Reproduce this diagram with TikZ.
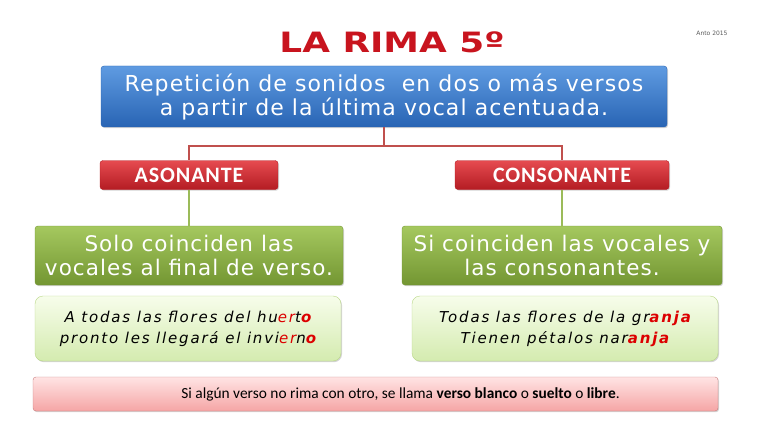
\documentclass[tikz,border=0pt]{standalone}
\usepackage{fontspec}
\setmainfont{DejaVu Sans}
\newfontfamily\calibri{Carlito}
\newfontfamily\titulofont{DejaVu Sans}
\newfontfamily\anchafont[LetterSpace=5]{DejaVu Sans}
\newfontfamily\ejemplofont[LetterSpace=12]{DejaVu Sans}
\newfontfamily\rotulofont[LetterSpace=4]{Carlito}
\usetikzlibrary{shadows}

\definecolor{rojotitulo}{RGB}{200,20,30}
\definecolor{azularriba}{RGB}{95,155,225}
\definecolor{azulabajo}{RGB}{40,100,180}
\definecolor{rojoarriba}{RGB}{230,75,80}
\definecolor{rojoabajo}{RGB}{180,28,35}
\definecolor{verdearriba}{RGB}{165,200,95}
\definecolor{verdeabajo}{RGB}{115,150,50}
\definecolor{claroarriba}{RGB}{247,253,235}
\definecolor{claroabajo}{RGB}{212,235,175}
\definecolor{claroborde}{RGB}{185,215,135}
\definecolor{rosaarriba}{RGB}{255,228,228}
\definecolor{rosaabajo}{RGB}{245,165,165}
\definecolor{rosaborde}{RGB}{200,125,125}
\definecolor{linearoja}{RGB}{192,80,77}
\definecolor{lineaverde}{RGB}{155,187,89}
\definecolor{marca}{RGB}{220,0,0}

\tikzset{
  caja/.style={rounded corners=3pt, align=center, inner sep=0pt,
    drop shadow={shadow xshift=1pt, shadow yshift=-1.2pt, opacity=0.35}},
  cajaazul/.style={caja, top color=azularriba, bottom color=azulabajo,
    draw=azulabajo, text=white, font=\anchafont\fontsize{22}{24}\selectfont},
  cajaroja/.style={caja, top color=rojoarriba, bottom color=rojoabajo,
    draw=rojoabajo, text=white, font=\rotulofont\bfseries\fontsize{22}{24}\selectfont},
  cajaverde/.style={caja, top color=verdearriba, bottom color=verdeabajo,
    draw=verdeabajo, text=white, font=\anchafont\fontsize{21.5}{24}\selectfont},
  cajaclara/.style={caja, rounded corners=8pt, top color=claroarriba,
    bottom color=claroabajo, draw=claroborde,
    font=\ejemplofont\itshape\fontsize{15}{21}\selectfont},
  cajarosa/.style={caja, top color=rosaarriba, bottom color=rosaabajo,
    draw=rosaborde, font=\calibri\fontsize{15.4}{18}\selectfont},
  ramaroja/.style={draw=linearoja, line width=1.5pt},
  ramaverde/.style={draw=lineaverde, line width=1.5pt}
}
\newcommand{\rojo}[1]{\textcolor{marca}{#1}}
\newcommand{\rojob}[1]{\textcolor{marca}{\bfseries #1}}

\begin{document}
\begin{tikzpicture}[x=1pt, y=-1pt]

\useasboundingbox (0,0) rectangle (768,433);

% titulo
\node[text=rojotitulo, font=\titulofont\bfseries\fontsize{28}{30}\selectfont, xscale=1.28]
  (titulo) at (392,42) {LA RIMA 5º};
\node[text=gray!70!black, font=\fontsize{6}{7}\selectfont] (autor) at (712,33) {Anto 2015};

% definicion
\node[cajaazul, minimum width=566, minimum height=61] (definicion) at (384,96.5)
  {Repetición de sonidos\ \ en dos o más versos\\a partir de la última vocal acentuada.};

% tipos de rima
\node[cajaroja, minimum width=178, minimum height=29] (asonante) at (189,175) {ASONANTE};
\node[cajaroja, minimum width=214, minimum height=29] (consonante) at (562,175) {CONSONANTE};

\node[cajaverde, minimum width=308, minimum height=59] (solo) at (189,255.5)
  {Solo coinciden las\\vocales al final de verso.};
\node[cajaverde, minimum width=320, minimum height=59] (si) at (562,255.5)
  {Si coinciden las vocales y\\las consonantes.};

% ejemplos
\node[cajaclara, minimum width=306, minimum height=65] (ejasonante) at (188,328.5)
  {A todas las flores del hu\rojo{er}t\rojob{o}\\pronto les llegará el invi\rojo{er}n\rojob{o}};
\node[cajaclara, minimum width=306, minimum height=65] (ejconsonante) at (565,328.5)
  {Todas las flores de la gr\rojob{anja}\\Tienen pétalos nar\rojob{anja}};

% nota final
\node[cajarosa, minimum width=685, minimum height=34] (nota) at (375.5,394)
  {\hspace*{50pt}Si algún verso no rima con otro, se llama \textbf{verso blanco} o \textbf{suelto} o \textbf{libre}.};

% conectores
\coordinate (rama) at (definicion.south |- 0,146);
\draw[ramaroja] (definicion.south) -- (rama);
\draw[ramaroja] (rama) -| (asonante.north);
\draw[ramaroja] (rama) -| (consonante.north);
\draw[ramaverde] (asonante.south) -- (solo.north);
\draw[ramaverde] (consonante.south) -- (si.north);

\end{tikzpicture}
\end{document}
